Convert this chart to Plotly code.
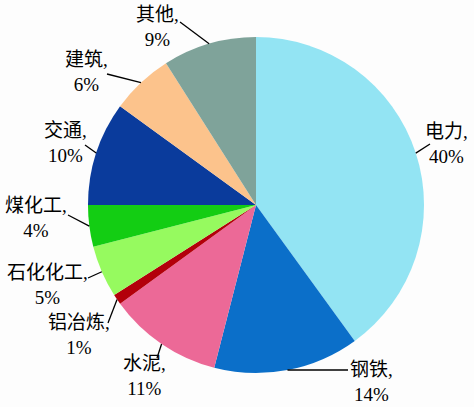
import math
import plotly.graph_objects as go

# ---- data ----
categories = ["电力", "钢铁", "水泥", "铝冶炼", "石化化工", "煤化工", "交通", "建筑", "其他"]
shares = [40, 14, 11, 1, 5, 4, 10, 6, 9]

# ---- styles / layout ----
colors = ["#93E4F3", "#0B6FC9", "#EC6997", "#B3000B", "#96FA5F",
          "#13CD13", "#0A3B9C", "#FCC38C", "#7FA39A"]
W, H = 474, 407
CX, CY, R = 256, 205, 168          # pie centre / radius in pixels
# label text centre and leader-line end, in pixels
label_pos = [(446, 144), (371, 382), (144, 376), (79, 335), (47, 285),
             (36, 218), (65, 143), (86, 72), (157, 27)]
line_end = [(430, 144), (348, 370), (157, 358), (108, 323), (88, 278),
            (68, 215), (85, 145), (107, 74), (180, 22)]
FONT = "Liberation Serif, Noto Sans CJK SC, serif"


def px(x):
    return x / W


def py(y):
    return 1 - y / H


fig = go.Figure(go.Pie(
    labels=categories,
    values=shares,
    sort=False,
    direction="clockwise",
    rotation=0,
    marker=dict(colors=colors, line=dict(width=0)),
    textinfo="none",
    hoverinfo="label+percent",
    showlegend=False,
    domain=dict(x=[px(CX - R), px(CX + R)], y=[py(CY + R), py(CY - R)]),
))

total = sum(shares)
cum = 0
shapes, annotations = [], []
for i, (name, v) in enumerate(zip(categories, shares)):
    mid = (cum + v / 2) / total * 2 * math.pi
    cum += v
    ax = CX + R * math.sin(mid)
    ay = CY - R * math.cos(mid)
    ex, ey = line_end[i]
    shapes.append(dict(type="line", xref="paper", yref="paper",
                       x0=px(ax), y0=py(ay), x1=px(ex), y1=py(ey),
                       line=dict(color="black", width=1.3)))
    tx, ty = label_pos[i]
    annotations.append(dict(x=px(tx), y=py(ty), xref="paper", yref="paper",
                            text=f"{name},<br>{v}%", showarrow=False,
                            xanchor="center", yanchor="middle",
                            font=dict(family=FONT, size=19, color="black")))

fig.update_layout(
    width=W, height=H,
    margin=dict(l=0, r=0, t=0, b=0),
    paper_bgcolor="#FDFDFD",
    plot_bgcolor="#FDFDFD",
    shapes=shapes,
    annotations=annotations,
)

fig.write_html("out.html",
               config={"displayModeBar": False},
               post_script="document.body.style.margin='0';")
